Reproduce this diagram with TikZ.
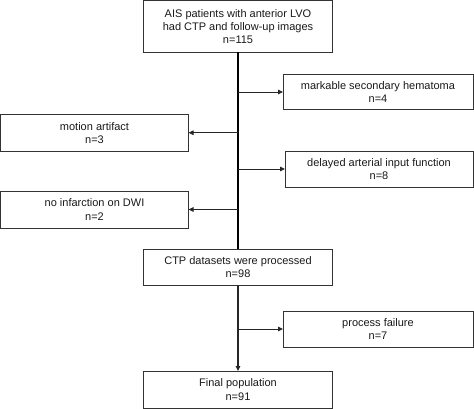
\documentclass[tikz,border=0pt]{standalone}
\usepackage{fontspec}
\setmainfont{Liberation Sans}
\usetikzlibrary{arrows.meta}
\begin{document}
\begin{tikzpicture}[x=1pt,y=-1pt,
  box/.style={draw=black!80,line width=0.9pt,rectangle,inner sep=0pt,outer sep=0pt,
    align=center,font=\fontsize{11}{13.3}\selectfont,text=black!90},
  trunk/.style={draw=black,line width=1.9pt},
  trunkthin/.style={draw=black!85,line width=1.2pt},
  arr/.style={draw=black!85,line width=0.9pt,-{Triangle[length=5pt,width=4.5pt]}}]
\useasboundingbox (0,0) rectangle (474,409);
\node[box,minimum width=188.5pt,minimum height=52pt] (top) at (238,26.5)
  {AIS patients with anterior LVO\\had CTP and follow-up images\\n=115};
\node[box,minimum width=190pt,minimum height=35pt] (mark) at (378,92)
  {markable secondary hematoma\\n=4};
\node[box,minimum width=188pt,minimum height=37pt] (motion) at (94.5,132.75)
  {motion artifact\\n=3};
\node[box,minimum width=188pt,minimum height=36pt] (delay) at (379,169)
  {delayed arterial input function\\n=8};
\node[box,minimum width=188pt,minimum height=37pt] (noinf) at (94.5,209.5)
  {no infarction on DWI\\n=2};
\node[box,minimum width=188.5pt,minimum height=36pt] (ctp) at (238,267)
  {CTP datasets were processed\\n=98};
\node[box,minimum width=190pt,minimum height=36pt] (fail) at (378,329)
  {process failure\\n=7};
\node[box,minimum width=188.5pt,minimum height=37pt] (final) at (238,389.5)
  {Final population\\n=91};
\draw[trunk] (top.south) -- (ctp.north);
\draw[arr] (top.south |- mark.west) -- (mark.west);
\draw[arr] (top.south |- motion.east) -- (motion.east);
\draw[arr] (top.south |- delay.west) -- (delay.west);
\draw[arr] (top.south |- noinf.east) -- (noinf.east);
\draw[trunkthin,-{Triangle[length=5pt,width=4.5pt]}] (ctp.south) -- (final.north);
\draw[arr] (ctp.south |- fail.west) -- (fail.west);
\end{tikzpicture}
\end{document}
